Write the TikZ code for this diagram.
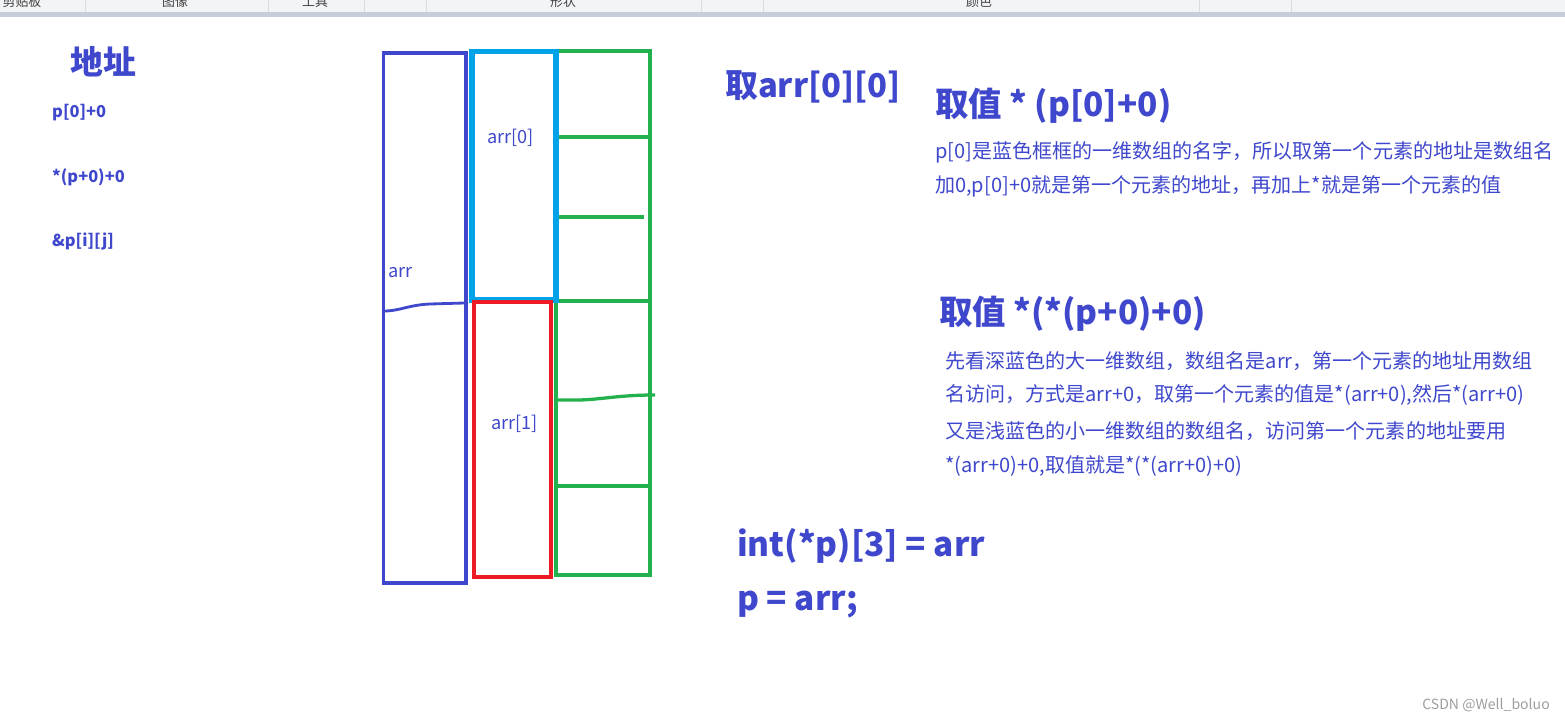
\documentclass[tikz,border=0pt]{standalone}
\usepackage{fontspec}
\setmainfont{Noto Sans CJK SC}
\usetikzlibrary{positioning}
\definecolor{indigo}{RGB}{63,72,204}
\definecolor{paintblue}{RGB}{0,162,232}
\definecolor{paintgreen}{RGB}{34,177,76}
\definecolor{paintred}{RGB}{237,28,36}
\definecolor{barfill}{RGB}{243,244,246}
\definecolor{barline}{RGB}{199,206,219}
\definecolor{barsep}{RGB}{218,220,224}

\begin{document}
\begin{tikzpicture}[x=0.03cm, y=-0.03cm,
  small node/.style={anchor=west, inner sep=0pt, text=indigo, font=\bfseries\fontsize{14}{16}\selectfont},
  cell node/.style={anchor=west, inner sep=0pt, text=indigo, font=\fontsize{15.5}{18}\selectfont},
  title node/.style={anchor=west, inner sep=0pt, text=indigo, font=\bfseries\fontsize{28.5}{33}\selectfont},
  body node/.style={anchor=west, inner sep=0pt, text=indigo, font=\fontsize{17.1}{20}\selectfont},
  tool node/.style={inner sep=0pt, text=black!75, font=\fontsize{11}{13}\selectfont},
  box/.style={line width=3.4pt}]
\useasboundingbox (0,0) rectangle (1565,722);
\fill[white] (0,0) rectangle (1565,722);

% toolbar strip at the top
\fill[barfill] (0,0) rectangle (1565,12);
\fill[barline] (0,12) rectangle (1565,17);
\foreach \sx in {85,268,364,426,701,763,1199,1291}
  \draw[barsep, line width=0.8pt] (\sx,0) -- (\sx,12);
\begin{scope}
\clip (0,0) rectangle (1565,12);
\node[tool node] (t1) at (22,2) {剪贴板};
\node[tool node] (t2) at (175,2) {图像};
\node[tool node] (t3) at (315,2) {工具};
\node[tool node] (t4) at (563,2) {形状};
\node[tool node] (t5) at (979,2) {颜色};
\end{scope}

% left column
\node[title node, anchor=center, font=\bfseries\fontsize{28}{33}\selectfont] (addr) at (103,62) {地址};
\node[small node] (a1) at (52,113) {p[0]+0};
\node[small node] (a2) at (52,177) {*(p+0)+0};
\node[small node] (a3) at (52,241) {\&p[i][j]};

% the arrays
\draw[paintgreen, box] (556,51) rectangle (650,575);
\foreach \gy in {137,301,486}
  \draw[paintgreen, line width=2.8pt] (556,\gy) -- (650,\gy);
\draw[paintgreen, line width=2.8pt] (556,217) -- (644,217);
\draw[paintgreen, line width=2.8pt] (557,400) -- (580,400) .. controls (605,399) and (620,395) .. (655,395);
\draw[paintblue, line width=4.3pt] (472,51.5) rectangle (556,300);
\draw[paintred, box] (474,302) rectangle (551,577);
\draw[indigo, box] (383.5,53) rectangle (466,583);
\draw[indigo, line width=2.4pt] (384,311) .. controls (400,311) and (408,305) .. (430,304) -- (464,303);

\node[cell node] (arr) at (388,273) {arr};
\node[cell node] (arr0) at (487,138) {arr[0]};
\node[cell node] (arr1) at (491,424) {arr[1]};

% right side
\node[title node, font=\bfseries\fontsize{28}{33}\selectfont] (pick) at (725,87) {取arr[0][0]};
\node[title node] (v1) at (935,106) {取值 * (p[0]+0)};
\node[body node] (b1a) at (935,152) {p[0]是蓝色框框的一维数组的名字，所以取第一个元素的地址是数组名};
\node[body node] (b1b) at (935,186) {加0,p[0]+0就是第一个元素的地址，再加上*就是第一个元素的值};

\node[title node] (v2) at (939,314) {取值 *(*(p+0)+0)};
\node[body node] (b2a) at (945,361) {先看深蓝色的大一维数组，数组名是arr，第一个元素的地址用数组};
\node[body node] (b2b) at (945,395) {名访问，方式是arr+0，取第一个元素的值是*(arr+0),然后*(arr+0)};
\node[body node] (b2c) at (945,431) {又是浅蓝色的小一维数组的数组名，访问第一个元素的地址要用};
\node[body node] (b2d) at (945,466) {*(arr+0)+0,取值就是*(*(arr+0)+0)};

\node[title node] (decl) at (737,546) {int(*p)[3] = arr};
\node[title node] (assign) at (737,605) {p = arr;};

\node[anchor=east, inner sep=0pt, text=black!38, font=\fontsize{12}{14}\selectfont] (mark) at (1550,705) {CSDN @Well\_boluo};
\end{tikzpicture}
\end{document}
